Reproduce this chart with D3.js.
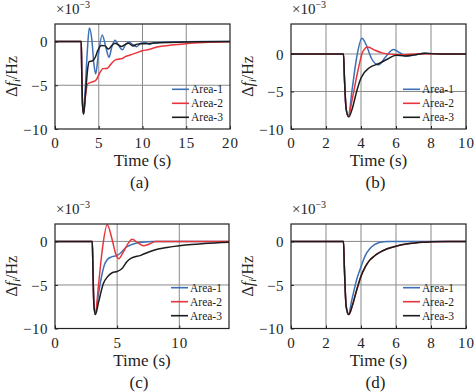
<!DOCTYPE html>
<html><head><meta charset="utf-8">
<script src="https://cdn.jsdelivr.net/npm/d3@7"></script>
<style>
html,body{margin:0;padding:0;background:#fff;}
svg{display:block;}
</style></head>
<body><svg id="c" width="474" height="392" font-family="Liberation Serif"></svg>
<script>
// ---------------- DATA (values in units of 1e-3 Hz) ----------------
const seriesNames = ["Area-1", "Area-2", "Area-3"];
const seriesColors = ["#3d6fb6", "#e8353b", "#1c1c1c"];
const panelLabels = ["(a)", "(b)", "(c)", "(d)"];
const yTicks = [0, -5, -10];
const xTicksA = [0, 5, 10, 15, 20];
const xTicksB = [0, 2, 4, 6, 8, 10];
const xTicksC = [0, 5, 10];
const xTicksD = [0, 2, 4, 6, 8, 10];

// Panel (a)
const tA1 = [0, 3, 3.05, 3.15, 3.27, 3.45, 3.7, 3.92, 4.2, 4.45, 4.65, 4.95, 5.4, 5.8, 6.17, 6.5, 6.86, 7.3, 7.7, 8.1, 8.45, 8.9, 9.3, 9.8, 10.3, 10.8, 11.3, 12, 13, 15, 20];
const vA1 = [0, 0, -3, -7.3, -8.3, -5.5, -1.0, 1.55, 0.3, -2.6, -3.7, -1.5, 0.75, -0.6, -1.8, -0.6, 0.15, -0.5, -0.95, -0.3, -0.05, -0.35, -0.6, -0.2, -0.1, -0.35, -0.15, -0.1, -0.05, -0.02, 0];
const tA2 = [0, 3, 3.05, 3.15, 3.28, 3.45, 3.7, 4.0, 4.3, 4.7, 5.1, 5.5, 6.0, 6.3, 6.9, 7.4, 7.8, 8.1, 8.6, 9.3, 10, 10.6, 11.8, 13, 14, 15, 17, 20];
const vA2 = [0, 0, -3, -7.2, -8.2, -6.5, -4.9, -4.7, -4.6, -4.4, -3.6, -3.1, -3.05, -2.7, -2.1, -2.0, -1.9, -1.7, -1.55, -1.3, -1.05, -0.94, -0.6, -0.45, -0.35, -0.25, -0.12, -0.03];
const tA3 = [0, 3, 3.05, 3.15, 3.27, 3.5, 3.75, 3.9, 4.3, 4.6, 4.9, 5.3, 5.7, 6.1, 6.5, 6.86, 7.2, 7.6, 8.0, 8.4, 8.9, 9.4, 10, 11, 12, 14, 17, 20];
const vA3 = [0, 0, -3, -7.3, -8.3, -5.8, -3.0, -2.3, -2.2, -1.8, -1.0, -0.45, -0.5, -0.87, -0.45, -0.2, -0.35, -0.57, -0.35, -0.2, -0.5, -0.3, -0.25, -0.2, -0.15, -0.08, -0.03, 0];

// Panel (b)
const tB1 = [0, 3, 3.05, 3.15, 3.27, 3.5, 3.75, 4.05, 4.3, 4.6, 5.0, 5.4, 5.86, 6.2, 6.6, 7.1, 7.6, 8.2, 9, 10];
const vB1 = [0, 0, -3, -7.3, -8.3, -4.6, -0.5, 2.1, 1.2, -0.6, -1.45, -0.4, 0.6, 0.2, -0.3, -0.1, 0.1, 0, 0, 0];
const tB2 = [0, 3, 3.05, 3.15, 3.28, 3.5, 3.8, 4.1, 4.39, 4.8, 5.2, 5.8, 6.5, 7.2, 8, 10];
const vB2 = [0, 0, -3, -7.3, -8.3, -6.0, -2.5, 0.3, 0.95, 0.5, 0.15, -0.05, -0.1, 0, 0.05, 0];
const tB3 = [0, 3, 3.05, 3.15, 3.3, 3.5, 3.75, 4.0, 4.5, 5.0, 5.5, 6.0, 6.5, 7.0, 7.7, 8.5, 10];
const vB3 = [0, 0, -3, -7.3, -8.4, -7.3, -5.0, -3.2, -1.8, -1.3, -0.7, -0.15, -0.25, -0.15, 0.1, 0, 0];

// Panel (c)
const tC1 = [0, 3, 3.05, 3.13, 3.24, 3.5, 3.75, 4.0, 4.2, 4.5, 5.0, 5.3, 5.7, 6.1, 6.5, 7.0, 8, 10, 14];
const vC1 = [0, 0, -3, -7.3, -8.4, -6.0, -4.0, -2.6, -2.1, -1.8, -1.6, -1.3, -0.7, -0.4, -0.2, -0.1, 0, 0, 0];
const tC2 = [0, 3, 3.05, 3.13, 3.24, 3.5, 3.8, 4.2, 4.6, 4.9, 5.12, 5.5, 5.9, 6.2, 6.7, 7.1, 7.6, 8.1, 9, 10, 14];
const vC2 = [0, 0, -3, -7.2, -8.3, -5.0, -1.0, 1.9, 0.2, -1.5, -1.98, -1.2, -0.2, 0.25, -0.2, -0.5, -0.3, 0, 0, 0, 0];
const tC3 = [0, 3, 3.05, 3.13, 3.25, 3.5, 3.9, 4.2, 4.6, 5.0, 5.4, 5.8, 6.1, 6.9, 7.6, 8.3, 9, 10, 11, 12, 14];
const vC3 = [0, 0, -3, -7.3, -8.4, -7.0, -4.8, -4.1, -3.6, -3.45, -3.1, -2.3, -1.95, -1.6, -1.18, -0.88, -0.7, -0.5, -0.35, -0.25, -0.1];

// Panel (d)
const tD1 = [0, 3, 3.05, 3.15, 3.27, 3.5, 3.75, 4.0, 4.25, 4.5, 4.75, 5.0, 5.3, 5.6, 6, 10];
const vD1 = [0, 0, -3, -7.4, -8.4, -6.5, -4.4, -2.9, -1.6, -0.85, -0.4, -0.15, -0.05, 0, 0, 0];
const tD2 = [0, 3, 3.05, 3.15, 3.3, 3.5, 3.75, 4.0, 4.25, 4.5, 4.75, 5.0, 5.5, 6.0, 6.5, 7.0, 7.5, 8.0, 9, 10];
const vD2 = [0, 0, -3, -7.4, -8.4, -7.4, -5.6, -4.0, -2.9, -2.15, -1.7, -1.35, -0.85, -0.55, -0.33, -0.2, -0.1, -0.05, 0, 0];
const tD3 = [0, 3, 3.05, 3.15, 3.3, 3.5, 3.75, 4.0, 4.25, 4.5, 4.75, 5.0, 5.5, 6.0, 6.5, 7.0, 7.5, 8.0, 9, 10];
const vD3 = [0, 0, -3, -7.4, -8.4, -7.4, -5.6, -4.0, -2.9, -2.15, -1.7, -1.35, -0.85, -0.55, -0.33, -0.2, -0.1, -0.05, 0, 0];

// ---------------- LAYOUT ----------------
const FONT = "Liberation Serif";
const panels = [
  {x0: 55, x1: 230, y0: 24, y1: 129, xd: [0, 20], yd: [-10, 2], xt: xTicksA, s: [[tA1, vA1], [tA2, vA2], [tA3, vA3]], lx: 172},
  {x0: 291, x1: 466, y0: 24, y1: 129, xd: [0, 10], yd: [-10, 4], xt: xTicksB, s: [[tB1, vB1], [tB2, vB2], [tB3, vB3]], lx: 403},
  {x0: 55, x1: 229, y0: 224, y1: 328.5, xd: [0, 14], yd: [-10, 2], xt: xTicksC, s: [[tC1, vC1], [tC2, vC2], [tC3, vC3]], lx: 171},
  {x0: 291, x1: 466, y0: 224, y1: 328.5, xd: [0, 10], yd: [-10, 2], xt: xTicksD, s: [[tD1, vD1], [tD2, vD2], [tD3, vD3]], lx: 403}
];

const svg = d3.select("#c");
const fmt = d => (d < 0 ? "\u2212" + Math.abs(d) : String(d));
const txt = (sel) => sel.append("text").attr("font-family", FONT).attr("fill", "#222");

panels.forEach((p, i) => {
  const x = d3.scaleLinear().domain(p.xd).range([p.x0, p.x1]);
  const y = d3.scaleLinear().domain(p.yd).range([p.y1, p.y0]);
  const g = svg.append("g");

  // grid
  g.selectAll(".gx").data(p.xt.filter(t => t > p.xd[0] && t < p.xd[1])).enter().append("line")
    .attr("x1", d => x(d)).attr("x2", d => x(d)).attr("y1", p.y0).attr("y2", p.y1)
    .attr("stroke", "#8a8a8a").attr("stroke-width", 1);
  g.selectAll(".gy").data(yTicks.filter(t => t > p.yd[0] && t < p.yd[1])).enter().append("line")
    .attr("x1", p.x0).attr("x2", p.x1).attr("y1", d => y(d)).attr("y2", d => y(d))
    .attr("stroke", "#8a8a8a").attr("stroke-width", 1);

  // clip
  const cid = "clip" + i;
  svg.append("clipPath").attr("id", cid).append("rect")
    .attr("x", p.x0).attr("y", p.y0).attr("width", p.x1 - p.x0).attr("height", p.y1 - p.y0);

  const line = d3.line().x(d => x(d[0])).y(d => y(d[1])).curve(d3.curveMonotoneX);
  const lg = g.append("g").attr("clip-path", `url(#${cid})`);
  p.s.forEach((sv, k) => {
    const pts = sv[0].map((t, j) => [t, sv[1][j]]);
    lg.append("path").attr("d", line(pts)).attr("fill", "none")
      .attr("stroke", seriesColors[k]).attr("stroke-width", 1.5).attr("stroke-linejoin", "round");
  });

  // axes (inward ticks)
  const xa = d3.axisBottom(x).tickValues(p.xt).tickSize(-3).tickPadding(5).tickFormat(fmt);
  const ya = d3.axisLeft(y).tickValues(yTicks).tickSize(-3).tickPadding(7).tickFormat(fmt);
  const gx = g.append("g").attr("transform", `translate(0,${p.y1})`).call(xa);
  const gy = g.append("g").attr("transform", `translate(${p.x0},0)`).call(ya);
  [gx, gy].forEach(a => {
    a.attr("font-family", FONT);
    a.select(".domain").remove();
    a.selectAll("line").attr("stroke", "#222");
    a.selectAll("text").attr("font-size", 15).attr("fill", "#222").attr("font-family", FONT);
  });
  gx.selectAll("text").attr("dy", "0.95em").attr("letter-spacing", "1px");
  gy.selectAll("text").attr("dy", "0.34em").attr("letter-spacing", "0.5px");

  // frame
  g.append("rect").attr("x", p.x0).attr("y", p.y0).attr("width", p.x1 - p.x0).attr("height", p.y1 - p.y0)
    .attr("fill", "none").attr("stroke", "#222").attr("stroke-width", 1.2);

  // x10^-3
  const ex = txt(g).attr("x", p.x0 + 1).attr("y", p.y0 - 10).attr("font-size", 15);
  ex.append("tspan").text("\u00d710");
  ex.append("tspan").attr("font-size", 10).attr("dy", -6).text("\u22123");

  // y label
  const cy = (p.y0 + p.y1) / 2;
  const yl = txt(g).attr("transform", `translate(${p.x0 - 38},${cy}) rotate(-90)`)
    .attr("text-anchor", "middle").attr("font-size", 16);
  yl.append("tspan").text("\u0394");
  yl.append("tspan").attr("font-style", "italic").text("f");
  yl.append("tspan").attr("font-style", "italic").attr("font-size", 10).attr("dy", 3).text("i");
  yl.append("tspan").attr("dy", -3).text("/Hz");

  // x label
  const cx = (p.x0 + p.x1) / 2;
  txt(g).attr("x", cx).attr("y", p.y1 + 37).attr("text-anchor", "middle")
    .attr("font-size", 17).text("Time (s)");
  txt(g).attr("x", cx - 3).attr("y", p.y1 + 59).attr("text-anchor", "middle")
    .attr("font-size", 17).text(panelLabels[i]);

  // legend
  const ly0 = (i < 2) ? 89.3 : 287.7;
  seriesNames.forEach((n, k) => {
    const yy = ly0 + k * 14;
    g.append("line").attr("x1", p.lx).attr("x2", p.lx + 17).attr("y1", yy).attr("y2", yy)
      .attr("stroke", seriesColors[k]).attr("stroke-width", 1.6);
    txt(g).attr("x", p.lx + 19).attr("y", yy).attr("dy", "0.35em")
      .attr("font-size", 11.5).text(n);
  });
});
</script></body></html>
